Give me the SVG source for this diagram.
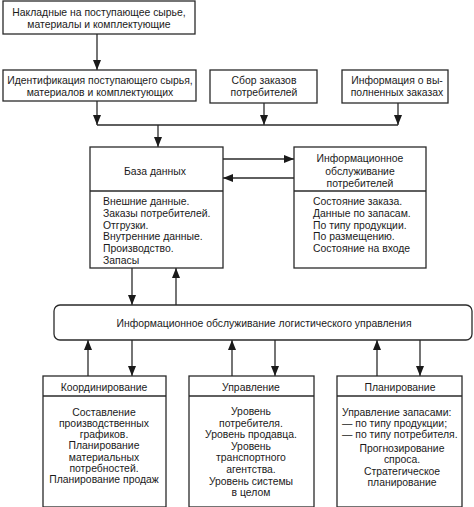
<svg xmlns="http://www.w3.org/2000/svg" width="474" height="507" viewBox="0 0 474 507">
<style>
.box{fill:#fff;stroke:#2a2a2a;stroke-width:1.3}
.ln{fill:none;stroke:#2a2a2a;stroke-width:1.3}
text{font-family:"Liberation Sans",Arial,sans-serif;font-size:10.4px;fill:#1a1a1a}
.c{text-anchor:middle}
</style>
<defs>
<marker id="ah" markerUnits="userSpaceOnUse" markerWidth="10" markerHeight="8" refX="10" refY="4" orient="auto">
<path d="M0,0 L10,4 L0,8 z" fill="#1a1a1a"/>
</marker>
</defs>
<rect width="474" height="507" fill="#fff"/>
<g id="connectors">
<line class="ln" x1="97" y1="34" x2="97" y2="70" marker-end="url(#ah)"/>
<line class="ln" x1="97" y1="101" x2="97" y2="125" marker-end="url(#ah)"/>
<line class="ln" x1="264" y1="103" x2="264" y2="125" marker-end="url(#ah)"/>
<line class="ln" x1="398" y1="103" x2="398" y2="125" marker-end="url(#ah)"/>
<line class="ln" x1="97" y1="125" x2="398" y2="125"/>
<line class="ln" x1="158" y1="125" x2="158" y2="147" marker-end="url(#ah)"/>
<line class="ln" x1="223" y1="159" x2="294" y2="159" marker-end="url(#ah)"/>
<line class="ln" x1="294" y1="178" x2="223" y2="178" marker-end="url(#ah)"/>
<line class="ln" x1="132" y1="268" x2="132" y2="305" marker-end="url(#ah)"/>
<line class="ln" x1="176" y1="305" x2="176" y2="268" marker-end="url(#ah)"/>
<line class="ln" x1="88" y1="376" x2="88" y2="340" marker-end="url(#ah)"/>
<line class="ln" x1="132" y1="340" x2="132" y2="376" marker-end="url(#ah)"/>
<line class="ln" x1="232" y1="376" x2="232" y2="340" marker-end="url(#ah)"/>
<line class="ln" x1="275" y1="340" x2="275" y2="376" marker-end="url(#ah)"/>
<line class="ln" x1="377" y1="376" x2="377" y2="340" marker-end="url(#ah)"/>
<line class="ln" x1="420" y1="340" x2="420" y2="376" marker-end="url(#ah)"/>
</g>
<g id="invoices">
<rect class="box" x="3" y="1" width="192" height="33"/>
<text class="c" x="99" y="16">Накладные на поступающее сырье,</text>
<text class="c" x="99" y="28">материалы и комплектующие</text>
</g>
<g id="identification">
<rect class="box" x="3" y="70" width="193" height="31"/>
<text class="c" x="100" y="84">Идентификация поступающего сырья,</text>
<text class="c" x="100" y="96">материалов и комплектующих</text>
</g>
<g id="orders">
<rect class="box" x="210" y="70" width="107" height="33"/>
<text class="c" x="264" y="84">Сбор заказов</text>
<text class="c" x="264" y="96">потребителей</text>
</g>
<g id="completed">
<rect class="box" x="342" y="70" width="106" height="33"/>
<text class="c" x="397" y="84">Информация о вы-</text>
<text class="c" x="397" y="96">полненных заказах</text>
</g>
<g id="database">
<rect class="box" x="90" y="147" width="133" height="121"/>
<line class="ln" x1="90" y1="191" x2="223" y2="191"/>
<text class="c" x="155" y="175">База данных</text>
<text x="103" y="205">Внешние данные.</text>
<text x="103" y="217">Заказы потребителей.</text>
<text x="103" y="229">Отгрузки.</text>
<text x="103" y="240">Внутренние данные.</text>
<text x="103" y="252">Производство.</text>
<text x="103" y="264">Запасы</text>
</g>
<g id="customer-service">
<rect class="box" x="294" y="147" width="132" height="121"/>
<line class="ln" x1="294" y1="191" x2="426" y2="191"/>
<text class="c" x="360" y="162">Информационное</text>
<text class="c" x="360" y="175">обслуживание</text>
<text class="c" x="360" y="187">потребителей</text>
<text x="313" y="205">Состояние заказа.</text>
<text x="313" y="217">Данные по запасам.</text>
<text x="313" y="229">По типу продукции.</text>
<text x="313" y="240">По размещению.</text>
<text x="313" y="252">Состояние на входе</text>
</g>
<g id="logistics">
<rect class="box" x="54" y="305" width="418" height="35" rx="6"/>
<text class="c" x="264" y="327">Информационное обслуживание логистического управления</text>
</g>
<g id="coordination">
<rect class="box" x="43" y="376" width="123" height="131"/>
<line class="ln" x1="43" y1="396" x2="166" y2="396"/>
<text class="c" x="104" y="391">Координирование</text>
<text class="c" x="104" y="416">Составление</text>
<text class="c" x="104" y="427">производственных</text>
<text class="c" x="104" y="438">графиков.</text>
<text class="c" x="104" y="449">Планирование</text>
<text class="c" x="104" y="461">материальных</text>
<text class="c" x="104" y="472">потребностей.</text>
<text class="c" x="104" y="483">Планирование продаж</text>
</g>
<g id="management">
<rect class="box" x="189" y="376" width="125" height="131"/>
<line class="ln" x1="189" y1="396" x2="314" y2="396"/>
<text class="c" x="251" y="391">Управление</text>
<text class="c" x="251" y="415">Уровень</text>
<text class="c" x="251" y="427">потребителя.</text>
<text class="c" x="251" y="438">Уровень продавца.</text>
<text class="c" x="251" y="450">Уровень</text>
<text class="c" x="251" y="461">транспортного</text>
<text class="c" x="251" y="473">агентства.</text>
<text class="c" x="251" y="485">Уровень системы</text>
<text class="c" x="251" y="496">в целом</text>
</g>
<g id="planning">
<rect class="box" x="337" y="376" width="125" height="131"/>
<line class="ln" x1="337" y1="396" x2="462" y2="396"/>
<text class="c" x="400" y="391">Планирование</text>
<text x="342" y="416">Управление запасами:</text>
<text x="342" y="427">— по типу продукции;</text>
<text x="342" y="438">— по типу потребителя.</text>
<text class="c" x="402" y="452">Прогнозирование</text>
<text class="c" x="402" y="463">спроса.</text>
<text class="c" x="402" y="475">Стратегическое</text>
<text class="c" x="402" y="486">планирование</text>
</g>
</svg>
